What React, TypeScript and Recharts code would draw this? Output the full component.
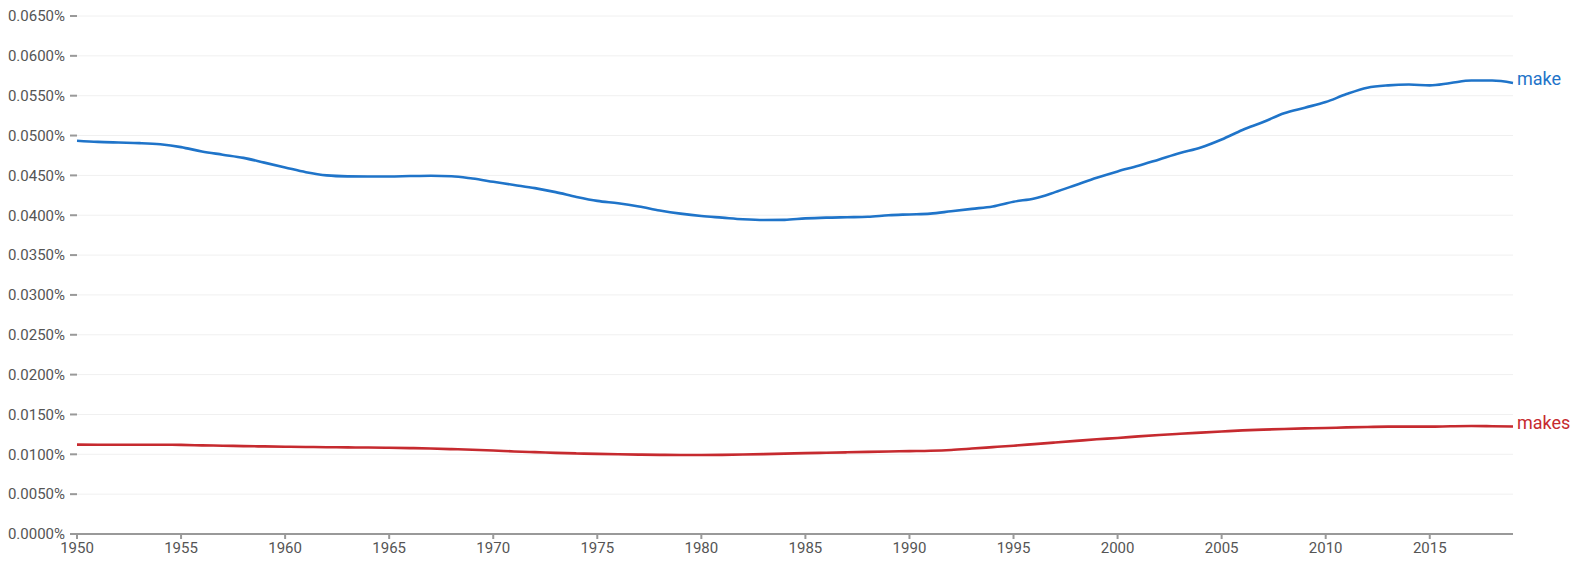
import React from 'react';
import { LineChart, Line, XAxis, YAxis, CartesianGrid } from 'recharts';

const years: number[] = [];
for (let y = 1950; y <= 2019; y++) years.push(y);

const makeValues: number[] = [
  0.04934, 0.0492, 0.04912, 0.04905, 0.0489, 0.04855, 0.048, 0.0476, 0.0472, 0.0466,
  0.046, 0.0454, 0.045, 0.04488, 0.04486, 0.04486, 0.04492, 0.04496, 0.0449, 0.0446,
  0.0442, 0.0438, 0.0434, 0.0429, 0.0423, 0.0418, 0.0415, 0.0411, 0.0406, 0.0402,
  0.0399, 0.0397, 0.0395, 0.0394, 0.03942, 0.0396, 0.0397, 0.03975, 0.0398, 0.04,
  0.0401, 0.0402, 0.0405, 0.0408, 0.0411, 0.0417, 0.0421, 0.0429, 0.0438, 0.0447,
  0.0455, 0.0462, 0.047, 0.0478, 0.0485, 0.0495, 0.0507, 0.0517, 0.0528, 0.0535,
  0.0542, 0.0552, 0.056, 0.0563, 0.0564, 0.0563, 0.0566, 0.0569, 0.0569, 0.0566,
];

const makesValues: number[] = [
  0.01121, 0.0112, 0.0112, 0.0112, 0.0112, 0.01118, 0.01112, 0.01108, 0.01103, 0.01099,
  0.01095, 0.01092, 0.01089, 0.01087, 0.01085, 0.01082, 0.01078, 0.01073, 0.01065, 0.01057,
  0.01048, 0.01036, 0.01027, 0.01018, 0.01011, 0.01005, 0.01, 0.00996, 0.00993, 0.00991,
  0.00991, 0.00993, 0.00997, 0.01002, 0.01008, 0.01015, 0.0102, 0.01025, 0.0103, 0.01035,
  0.0104, 0.01045, 0.01055, 0.01072, 0.0109, 0.01108, 0.01128, 0.01148, 0.01168, 0.01188,
  0.01205, 0.01225, 0.01243, 0.01258, 0.01272, 0.01286, 0.013, 0.0131, 0.01318, 0.01325,
  0.0133, 0.01338, 0.01343, 0.01347, 0.01347, 0.01347, 0.01352, 0.01355, 0.01352, 0.01348,
];

const xTicks: number[] = [1950, 1955, 1960, 1965, 1970, 1975, 1980, 1985, 1990, 1995, 2000, 2005, 2010, 2015];
const yTicks: number[] = [0, 0.005, 0.01, 0.015, 0.02, 0.025, 0.03, 0.035, 0.04, 0.045, 0.05, 0.055, 0.06, 0.065];

const seriesNames = ['make', 'makes'];
const BLUE = '#1f74c9';
const RED = '#c62a2f';

const data = years.map((year, i) => ({ year, make: makeValues[i], makes: makesValues[i] }));

const makeEndLabel = (name: string, color: string) => (props: any) => {
  const { x, y, index } = props;
  if (index !== data.length - 1) return null;
  return (
    <text x={x + 4} y={y - 4} fill={color} fontSize={18} fontFamily="Roboto" dominantBaseline="central">
      {name}
    </text>
  );
};

export default function App() {
  return (
    <div style={{ position: 'absolute', left: 0, top: 0, background: '#fff' }}>
      <LineChart width={1577} height={562} data={data} margin={{ top: 16, right: 64, bottom: 0, left: 0 }}>
        <CartesianGrid vertical={false} stroke="#f0f0f0" strokeWidth={1} />
        <XAxis
          dataKey="year"
          type="number"
          domain={[1950, 2019]}
          ticks={xTicks}
          height={28}
          axisLine={{ stroke: '#999', strokeWidth: 2 }}
          tickLine={{ stroke: '#999', strokeWidth: 2 }}
          tickSize={5}
          tickMargin={3}
          tick={{ fill: '#555', fontSize: 15, fontFamily: 'Roboto' }}
          allowDecimals={false}
        />
        <YAxis
          type="number"
          domain={[0, 0.065]}
          ticks={yTicks}
          width={77}
          axisLine={false}
          tickLine={{ stroke: '#999', strokeWidth: 2 }}
          tickSize={7}
          tickMargin={5}
          tick={{ fill: '#555', fontSize: 15, fontFamily: 'Roboto' }}
          tickFormatter={(v: number) => v.toFixed(4) + '%'}
          interval={0}
        />
        <Line
          type="monotone"
          dataKey="make"
          name={seriesNames[0]}
          stroke={BLUE}
          strokeWidth={2.6}
          dot={false}
          isAnimationActive={false}
          label={makeEndLabel(seriesNames[0], BLUE)}
        />
        <Line
          type="monotone"
          dataKey="makes"
          name={seriesNames[1]}
          stroke={RED}
          strokeWidth={2.6}
          dot={false}
          isAnimationActive={false}
          label={makeEndLabel(seriesNames[1], RED)}
        />
      </LineChart>
    </div>
  );
}
